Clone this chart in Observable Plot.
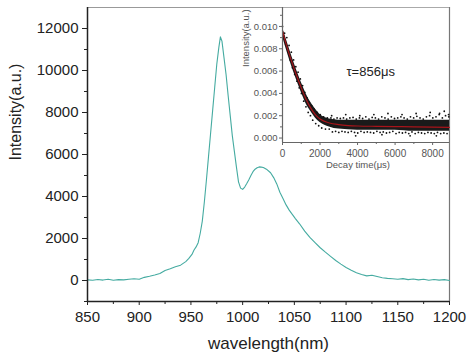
<!DOCTYPE html>
<html>
<head>
<meta charset="utf-8">
<script src="https://cdn.jsdelivr.net/npm/d3@7"></script>
<script src="https://cdn.jsdelivr.net/npm/@observablehq/plot@0.6"></script>
<style>
  html, body { margin: 0; padding: 0; background: #fff; }
  #wrap { position: relative; width: 474px; height: 362px; }
  #inset { position: absolute; left: 232px; top: 0px; }
</style>
</head>
<body>
<div id="wrap"><div id="main"></div><div id="inset"></div></div>
<script>
// ---- Main emission spectrum ----
const wavelength = [850,855,860,865,870,875,880,885,890,895,900,905,910,915,920,925,930,935,940,945,948,951,953,955,957,959,961,963,965,967,969,971,973,975,977,978.5,980,982,984,986,988,990,992,994,996,998,1000,1002,1004,1006,1008,1010,1012,1014,1016,1018,1020,1023,1027,1030,1033,1036,1039,1042,1045,1048,1051,1055,1060,1065,1070,1075,1080,1085,1090,1095,1100,1105,1110,1115,1120,1125,1130,1135,1140,1145,1150,1155,1160,1165,1170,1175,1180,1185,1190,1195,1200];
const intensity  = [30,10,50,20,60,10,40,30,60,80,60,150,200,260,330,480,560,650,730,900,1050,1240,1450,1600,1800,2250,2830,3750,4800,5900,7000,8100,9200,10300,11100,11600,11400,10600,9800,8800,7850,6900,6150,5400,4700,4400,4340,4450,4620,4800,5000,5180,5300,5370,5410,5400,5380,5300,5130,4900,4600,4200,3900,3600,3350,3150,2950,2700,2350,2050,1800,1560,1350,1150,950,780,620,490,370,290,220,250,190,130,100,80,60,90,40,70,30,60,10,50,20,40,0];

const xTicks = [850,900,950,1000,1050,1100,1150,1200];
const xMinor = [875,925,975,1025,1075,1125,1175];
const yTicks = [0,2000,4000,6000,8000,10000,12000];
const yMinor = [-1000,1000,3000,5000,7000,9000,11000];

// ---- Inset: decay curve ----
const fitTime  = [0,250,500,750,1000,1250,1500,1750,2000,2500,3000,3500,4000,5000,6000,7000,8000,8900];
const fitValue = [0.0096,0.0081,0.0068,0.0056,0.0045,0.0035,0.0027,0.0021,0.0017,0.00135,0.0012,0.00112,0.00108,0.00105,0.00103,0.00100,0.00098,0.00096];

const bandTime = [0,250,500,750,1000,1250,1500,1750,2000,2500,3000,4000,5000,6000,7000,8000,8900];
const bandLow  = [0.0091,0.0077,0.0064,0.0052,0.0041,0.0031,0.0024,0.0018,0.0014,0.0010,0.0008,0.0007,0.0007,0.0007,0.0006,0.0006,0.0006];
const bandHigh = [0.0099,0.0086,0.0073,0.0061,0.0050,0.0040,0.0032,0.0026,0.0021,0.0017,0.0016,0.0016,0.0016,0.0016,0.0016,0.0016,0.0016];

const scatterTime  = [0,50,110,170,230,290,350,410,470,530,590,650,710,770,830,890,950,1010,1070,1130,1190,1250,1310,1370,1430,1490,1550,1610,1690,1770,1850,1930,2010,2090,2190,2290,2390,2490,
  2580,2660,2740,2830,2910,3000,3080,3170,3250,3330,3420,3500,3590,3670,3760,3840,3930,4010,4100,4180,4270,4350,4440,4520,4610,4690,4780,4860,4950,5030,5120,5200,5290,5370,5460,5540,5630,5710,5800,5880,5970,6050,6140,6220,6310,6390,6480,6560,6650,6730,6820,6900,6990,7070,7160,7240,7330,7410,7500,7580,7670,7750,7840,7920,8010,8090,8180,8260,8350,8430,8520,8600,8690,8770,8860,
  2620,3370,4120,4870,5620,6370,7120,7870,8370,8620,8850,3900,5300,6800,8200];
const scatterValue = [0.0100,0.0092,0.0094,0.0084,0.0090,0.0078,0.0083,0.0070,0.0077,0.0063,0.0070,0.0057,0.0064,0.0051,0.0059,0.0045,0.0053,0.0040,0.0047,0.0033,0.0041,0.0028,0.0036,0.0023,0.0032,0.0020,0.0029,0.0016,0.0026,0.0013,0.0023,0.0011,0.0021,0.0009,0.0019,0.0008,0.0018,0.0008,
  0.0018,0.00055,0.0017,0.0006,0.0018,0.0005,0.00175,0.0006,0.0018,0.00055,0.0017,0.0005,0.0018,0.0006,0.00185,0.0005,0.0017,0.00045,0.0018,0.0006,0.00175,0.0005,0.0019,0.00055,0.0017,0.0005,0.00185,0.00045,0.0018,0.0006,0.0017,0.0005,0.0019,0.00055,0.0018,0.00045,0.0017,0.0005,0.0019,0.0006,0.00175,0.0004,0.0018,0.0005,0.0019,0.00045,0.0018,0.0005,0.0017,0.0004,0.0019,0.00055,0.0018,0.0004,0.00195,0.0005,0.0018,0.00045,0.0017,0.0004,0.0019,0.0005,0.0020,0.00045,0.0018,0.0004,0.0019,0.0005,0.0021,0.0004,0.0018,0.00045,0.0020,0.0004,0.0019,
  0.0020,0.0021,0.0020,0.0021,0.0022,0.0021,0.0022,0.0023,0.0022,0.0024,0.0021,0.0002,0.0003,0.0002,0.0002];

const insetXTicks = [0,2000,4000,6000,8000];
const insetXMinor = [1000,3000,5000,7000];
const insetYTicks = [0,0.002,0.004,0.006,0.008,0.010];
const insetYMinor = [0.001,0.003,0.005,0.007,0.009,0.011];

const spectrum = wavelength.map((w, i) => ({w, v: intensity[i]}));
const fit = fitTime.map((t, i) => ({t, v: fitValue[i]}));
const band = bandTime.map((t, i) => ({t, lo: bandLow[i], hi: bandHigh[i]}));
const scatter = scatterTime.map((t, i) => ({t, v: scatterValue[i]}));

const font = "'Liberation Sans', Arial, sans-serif";

const main = Plot.plot({
  width: 474, height: 362,
  marginLeft: 87, marginRight: 25, marginTop: 7, marginBottom: 61,
  style: {fontFamily: font, fontSize: "15px", color: "#222", background: "transparent", overflow: "visible"},
  x: {domain: [850, 1200], label: null},
  y: {domain: [-1000, 13000], label: null},
  marks: [
    Plot.ruleY([13000], {stroke: "#999", strokeWidth: 1}),
    Plot.ruleX([1200], {stroke: "#777", strokeWidth: 1.2}),
    Plot.line(spectrum, {x: "w", y: "v", stroke: "#45aba1", strokeWidth: 1.1}),
    Plot.ruleX([850], {stroke: "#222", strokeWidth: 1.5}),
    Plot.ruleY([-1000], {stroke: "#222", strokeWidth: 1.5}),
    Plot.axisX({ticks: xTicks, tickSize: 4, tickPadding: 6, tickFormat: d => String(d), label: null, stroke: "#222"}),
    Plot.axisX({ticks: xMinor, tickSize: 3, tickFormat: () => "", label: null, stroke: "#222"}),
    Plot.axisY({ticks: yTicks, tickSize: 5, tickPadding: 4, tickFormat: d => String(d), label: null, stroke: "#222"}),
    Plot.axisY({ticks: yMinor, tickSize: 3, tickFormat: () => "", label: null, stroke: "#222"}),
    Plot.text(["wavelength(nm)"], {frameAnchor: "bottom", dy: 47, fontSize: 17, fill: "#222"}),
    Plot.text(["Intensity(a.u.)"], {frameAnchor: "left", dx: -72, dy: 6, rotate: -90, fontSize: 16, fill: "#222"})
  ]
});
document.getElementById("main").appendChild(main);

const inset = Plot.plot({
  width: 222, height: 177,
  marginLeft: 50, marginRight: 5, marginTop: 7, marginBottom: 35,
  style: {fontFamily: font, fontSize: "9.5px", color: "#555", background: "transparent", overflow: "visible"},
  x: {domain: [0, 8900], label: null},
  y: {domain: [-0.0004, 0.0117], label: null},
  marks: [
    Plot.ruleY([0.0117], {stroke: "#aaa", strokeWidth: 1}),
    Plot.areaY(band, {x: "t", y1: "lo", y2: "hi", fill: "#1a1a1a", curve: "monotone-x"}),
    Plot.dot(scatter, {x: "t", y: "v", r: 0.9, fill: "#111", stroke: null}),
    Plot.line(fit, {x: "t", y: "v", stroke: "#a8141a", strokeWidth: 1.2, curve: "monotone-x"}),
    Plot.ruleX([0], {stroke: "#666", strokeWidth: 1.2}),
    Plot.ruleY([-0.0004], {stroke: "#666", strokeWidth: 1.2}),
    Plot.axisX({ticks: insetXTicks, tickSize: 3, tickPadding: 4, tickFormat: d => String(d), label: null, stroke: "#666", fontSize: 10}),
    Plot.axisX({ticks: insetXMinor, tickSize: 2, tickFormat: () => "", label: null, stroke: "#666"}),
    Plot.axisY({ticks: insetYTicks, tickSize: 3, tickPadding: 2, tickFormat: d3.format(".3f"), label: null, stroke: "#666"}),
    Plot.axisY({ticks: insetYMinor, tickSize: 2, tickFormat: () => "", label: null, stroke: "#666"}),
    Plot.text(["Decay time(μs)"], {frameAnchor: "bottom", dy: 25, dx: -8, fontSize: 9.5, fill: "#555", letterSpacing: "0.5px"}),
    Plot.text(["Intensity(a.u.)"], {frameAnchor: "left", dx: -37, dy: -8, rotate: -90, fontSize: 9.5, fill: "#555"}),
    Plot.text(["τ=856μs"], {x: 4700, y: 0.0059, fontSize: 13, fill: "#222"})
  ]
});
document.getElementById("inset").appendChild(inset);
</script>
</body>
</html>
